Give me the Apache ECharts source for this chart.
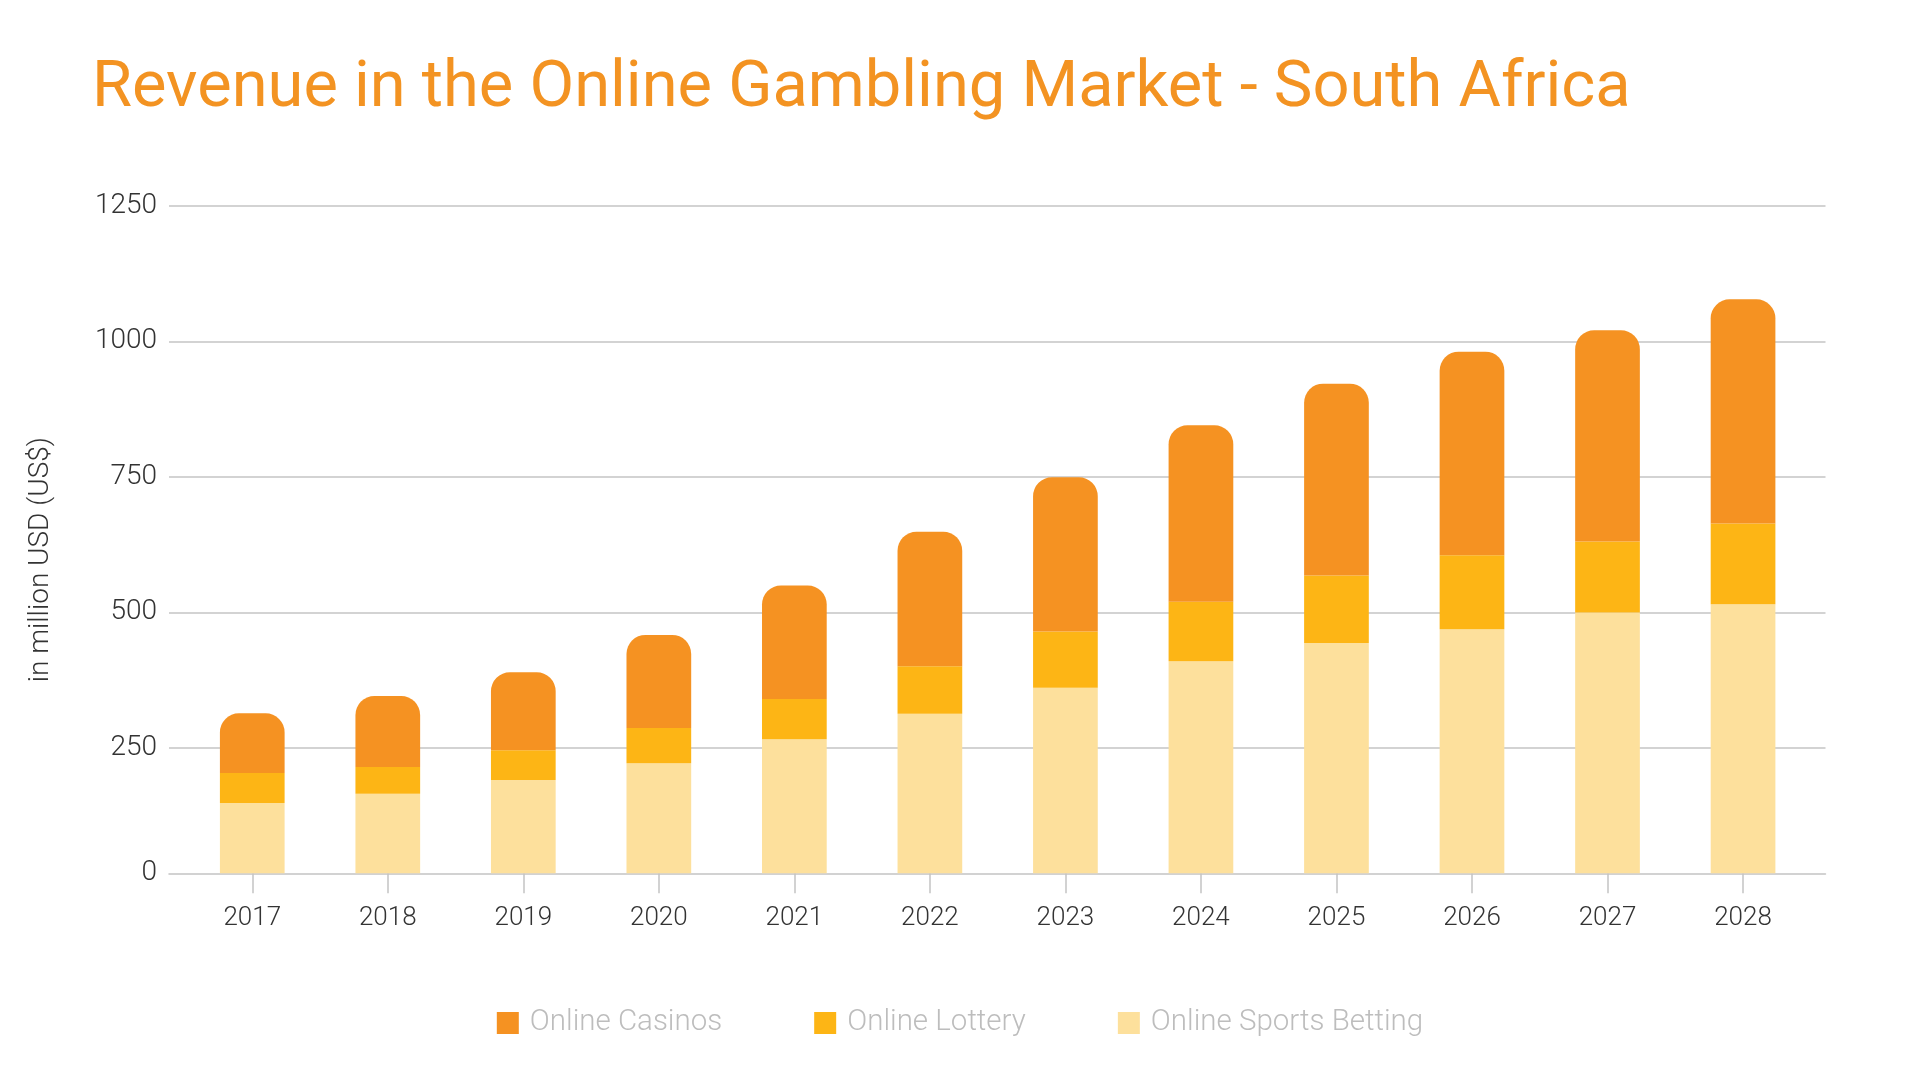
<!DOCTYPE html>
<html>
<head>
<meta charset="utf-8">
<title>Revenue in the Online Gambling Market - South Africa</title>
<script src="https://cdn.jsdelivr.net/npm/echarts@6/dist/echarts.min.js"></script>
<style>
  html, body { margin: 0; padding: 0; background: #ffffff; }
  #chart { width: 1920px; height: 1080px; }
</style>
</head>
<body>
<div id="chart"></div>
<script>
// ---- data ----
const titleText = 'Revenue in the Online Gambling Market - South Africa';
const yAxisName = 'in million USD (US$)';
const categories = ['2017', '2018', '2019', '2020', '2021', '2022', '2023', '2024', '2025', '2026', '2027', '2028'];
const seriesNames = ['Online Casinos', 'Online Lottery', 'Online Sports Betting'];
const onlineSportsBetting = [148.5, 165.7, 191, 222, 266, 313.4, 361, 410, 443.7, 469.2, 500, 515];
const onlineLottery = [55.3, 49.3, 55, 65, 74.5, 87.5, 104, 109.7, 124.7, 136.4, 131, 149];
const onlineCasinos = [110.2, 131, 143.7, 171.6, 209.2, 248.1, 284.4, 325.7, 353.6, 375.4, 389.6, 413.5];
const yMin = 0;
const yMax = 1250;
const yInterval = 250;

// ---- layout / style ----
const FONT = 'Roboto, "Noto Sans", sans-serif';
const colors = { casinos: '#F59222', lottery: '#FDB515', sports: '#FDE09C' };
const gridTop = 205.8;
const zeroY = 883.6;      // where value 0 falls on the linear scale
const axisLineY = 873.3;  // baseline is drawn slightly above the value 0
const axisShift = zeroY - axisLineY;
const pxPerUnit = (zeroY - gridTop) / (yMax - yMin);
const baselineValue = axisShift / pxPerUnit;

const chart = echarts.init(document.getElementById('chart'), null, { renderer: 'canvas' });

const option = {
  backgroundColor: '#ffffff',
  animation: false,
  textStyle: { fontFamily: FONT },
  title: {
    text: titleText,
    left: 92,
    top: 57,
    padding: 0,
    textStyle: { color: '#F39322', fontSize: 65, fontWeight: 400, fontFamily: FONT }
  },
  legend: {
    data: seriesNames,
    left: 'center',
    top: 1003,
    icon: 'rect',
    itemWidth: 22,
    itemHeight: 22,
    itemGap: 92,
    selectedMode: false,
    textStyle: { color: '#BDBDBD', fontSize: 29.5, fontWeight: 300, fontFamily: FONT, padding: [0, 0, 0, 6] }
  },
  grid: [
    { left: 169, right: 1920 - 1825.5, top: gridTop, bottom: 1080 - zeroY, containLabel: false },
    { left: 184.5, right: 1920 - 1810.8, top: gridTop, bottom: 1080 - axisLineY, containLabel: false }
  ],
  xAxis: [
    {
      type: 'category', gridIndex: 0, data: categories,
      position: 'bottom', offset: -axisShift,
      axisLine: { show: true, onZero: false, lineStyle: { color: '#C4C4C4', width: 1.5 } },
      axisTick: { show: false }, axisLabel: { show: false }, splitLine: { show: false }
    },
    {
      type: 'category', gridIndex: 1, data: categories,
      axisLine: { show: false, onZero: false },
      axisTick: { show: true, alignWithLabel: true, length: 20, lineStyle: { color: '#C4C4C4', width: 1.5 } },
      axisLabel: { color: '#333333', fontSize: 26, fontWeight: 300, fontFamily: FONT, margin: 32 },
      splitLine: { show: false }
    }
  ],
  yAxis: [
    {
      type: 'value', gridIndex: 0, min: yMin, max: yMax, interval: yInterval,
      name: yAxisName, nameLocation: 'middle', nameGap: 114, nameRotate: 90,
      nameTextStyle: { color: '#333333', fontSize: 28, fontWeight: 300, fontFamily: FONT, padding: [0, 30, 0, 0] },
      axisLine: { show: false }, axisTick: { show: false },
      axisLabel: {
        color: '#333333', fontSize: 28, fontWeight: 300, fontFamily: FONT, margin: 12,
        formatter: function (v) { return v === 0 ? '{z|0}' : String(v); },
        rich: { z: { color: '#333333', fontSize: 28, fontWeight: 300, fontFamily: FONT, padding: [0, 0, 2 * axisShift, 0] } }
      },
      splitLine: {
        show: true,
        lineStyle: { color: ['rgba(0,0,0,0)', '#C4C4C4', '#C4C4C4', '#C4C4C4', '#C4C4C4', '#C4C4C4'], width: 1.5 }
      }
    },
    {
      type: 'value', gridIndex: 1, min: baselineValue, max: yMax, show: false,
      splitLine: { show: false }
    }
  ],
  series: [
    {
      name: seriesNames[2], type: 'bar', stack: 'total', xAxisIndex: 1, yAxisIndex: 1,
      data: onlineSportsBetting, barWidth: 64.7, clip: true,
      itemStyle: { color: colors.sports }
    },
    {
      name: seriesNames[1], type: 'bar', stack: 'total', xAxisIndex: 1, yAxisIndex: 1,
      data: onlineLottery, barWidth: 64.7, clip: true,
      itemStyle: { color: colors.lottery }
    },
    {
      name: seriesNames[0], type: 'bar', stack: 'total', xAxisIndex: 1, yAxisIndex: 1,
      data: onlineCasinos, barWidth: 64.7, clip: true,
      itemStyle: { color: colors.casinos, borderRadius: [19, 19, 0, 0] }
    }
  ]
};

chart.setOption(option);
</script>
</body>
</html>
